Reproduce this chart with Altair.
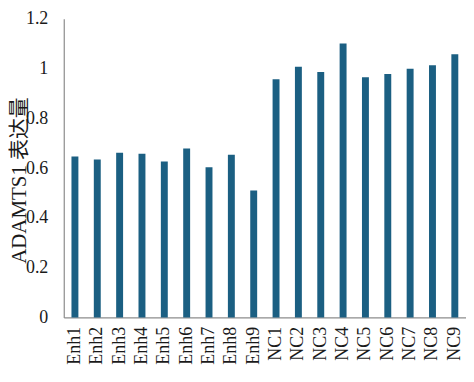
import altair as alt
import pandas as pd

samples = ["Enh1", "Enh2", "Enh3", "Enh4", "Enh5", "Enh6", "Enh7", "Enh8", "Enh9",
           "NC1", "NC2", "NC3", "NC4", "NC5", "NC6", "NC7", "NC8", "NC9"]
expression = [0.647, 0.634, 0.662, 0.658, 0.626, 0.679, 0.603, 0.654, 0.510,
              0.957, 1.007, 0.986, 1.101, 0.965, 0.978, 0.999, 1.013, 1.057]
y_ticks = [0, 0.2, 0.4, 0.6, 0.8, 1.0, 1.2]

df = pd.DataFrame({"sample": samples, "value": expression})

serif = "Liberation Serif"
title_font = "Liberation Serif, Noto Sans CJK SC"

chart = alt.Chart(df).mark_bar(color="#1b5f82").encode(
    x=alt.X("sample:N", sort=samples,
            scale=alt.Scale(paddingInner=0.69, paddingOuter=0.345),
            axis=alt.Axis(title=None, labelAngle=-90, labelAlign="right",
                          labelBaseline="middle", labelPadding=9,
                          ticks=False, tickSize=0, domainColor="#8c8c8c",
                          domainWidth=1.2, labelFont=serif, labelFontSize=18,
                          labelColor="#1a1a1a")),
    y=alt.Y("value:Q", scale=alt.Scale(domain=[0, 1.2], nice=False),
            axis=alt.Axis(title="ADAMTS1 表达量", values=y_ticks, grid=False,
                          ticks=False, tickSize=0, labelPadding=16,
                          domainColor="#8c8c8c", domainWidth=1.2,
                          labelFont=serif, labelFontSize=18, labelColor="#1a1a1a",
                          labelExpr="datum.value == 0 ? '0' : format(datum.value, '.1~f')",
                          titleFont=title_font, titleFontSize=21, titleFontWeight="normal",
                          titleColor="#1a1a1a", titleX=-34, titleY=162,
                          titleAlign="center")),
).properties(
    width=404, height=300,
    autosize=alt.AutoSizeParams(type="none"),
    padding={"left": 56, "top": 10, "right": 0, "bottom": 50},
).configure_view(stroke=None)

chart.save("out.html", embed_options={"renderer": "svg", "actions": False})
